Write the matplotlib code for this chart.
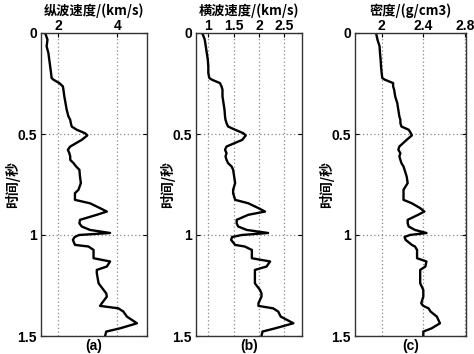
import matplotlib
matplotlib.use("Agg")
import matplotlib.pyplot as plt

plt.rcParams['font.family'] = ['Liberation Sans', 'Noto Sans CJK SC', 'DejaVu Sans']
plt.rcParams['font.weight'] = 'bold'

time_s = [0.000, 0.033, 0.066, 0.099, 0.132, 0.165, 0.198, 0.223, 0.231, 0.248,
          0.264, 0.281, 0.314, 0.347, 0.380, 0.413, 0.430, 0.446, 0.463, 0.479,
          0.496, 0.507, 0.529, 0.562, 0.578, 0.595, 0.611, 0.628, 0.644, 0.661,
          0.677, 0.710, 0.743, 0.776, 0.793, 0.826, 0.843, 0.867, 0.884, 0.900,
          0.925, 0.942, 0.958, 0.975, 0.990, 1.000, 1.010, 1.024, 1.049, 1.057,
          1.074, 1.115, 1.131, 1.156, 1.173, 1.189, 1.239, 1.272, 1.289, 1.305,
          1.338, 1.351, 1.363, 1.379, 1.404, 1.437, 1.462, 1.478, 1.500]

vp = [1.55, 1.63, 1.60, 1.66, 1.69, 1.72, 1.75, 1.77, 1.83, 2.03,
      2.15, 2.17, 2.20, 2.24, 2.28, 2.34, 2.40, 2.42, 2.45, 2.62,
      2.90, 2.98, 2.79, 2.40, 2.32, 2.37, 2.40, 2.40, 2.51, 2.60,
      2.71, 2.73, 2.76, 2.68, 2.56, 2.56, 3.07, 3.41, 3.64, 3.30,
      2.73, 2.71, 2.79, 3.07, 3.75, 2.70, 2.55, 2.49, 2.56, 3.02,
      3.19, 3.19, 3.75, 3.64, 3.30, 3.30, 3.36, 3.53, 3.62, 3.64,
      3.47, 3.41, 4.03, 4.20, 4.32, 4.66, 4.09, 3.62, 3.58]

vs = [0.88, 0.93, 0.95, 0.97, 0.99, 1.00, 1.00, 1.02, 1.07, 1.23,
      1.26, 1.28, 1.28, 1.30, 1.32, 1.33, 1.34, 1.36, 1.39, 1.53,
      1.69, 1.74, 1.67, 1.36, 1.33, 1.36, 1.34, 1.36, 1.39, 1.46,
      1.49, 1.51, 1.53, 1.49, 1.49, 1.53, 1.79, 1.99, 2.12, 1.79,
      1.56, 1.56, 1.59, 1.76, 2.18, 1.66, 1.47, 1.45, 1.53, 1.72,
      1.86, 1.86, 2.22, 2.15, 1.92, 1.92, 1.92, 2.02, 2.05, 2.05,
      1.99, 1.99, 2.28, 2.38, 2.43, 2.68, 2.32, 2.07, 2.05]

rho = [1.946, 1.96, 1.98, 1.984, 1.99, 1.994, 2.00, 2.006, 2.03, 2.11,
       2.11, 2.12, 2.13, 2.15, 2.16, 2.17, 2.18, 2.18, 2.19, 2.26,
       2.28, 2.29, 2.24, 2.17, 2.16, 2.18, 2.17, 2.18, 2.19, 2.21,
       2.22, 2.24, 2.25, 2.21, 2.21, 2.21, 2.29, 2.37, 2.41, 2.35,
       2.25, 2.25, 2.26, 2.32, 2.43, 2.27, 2.22, 2.23, 2.29, 2.32,
       2.34, 2.34, 2.43, 2.42, 2.37, 2.37, 2.37, 2.40, 2.40, 2.40,
       2.38, 2.40, 2.45, 2.47, 2.53, 2.56, 2.48, 2.40, 2.40]

titles = ['纵波速度/(km/s)', '横波速度/(km/s)', '密度/(g/cm3)']
panel_labels = ['(a)', '(b)', '(c)']
xticks_list = [[2, 4], [1, 1.5, 2, 2.5], [2, 2.4, 2.8]]
xticklabels_list = [['2', '4'], ['1', '1.5', '2', '2.5'], ['2', '2.4', '2.8']]
xlims = [(1.41, 5.0), (0.757, 2.85), (1.744, 2.81)]
yticks = [0, 0.5, 1, 1.5]
yticklabels = ['0', '0.5', '1', '1.5']
ylabel = '时间/秒'

W, H = 474, 354
fig = plt.figure(figsize=(W / 100, H / 100), dpi=100)
boxes = [(41, 147), (196, 302), (355, 466)]
top_px, bot_px = 33, 336
cjk = ['Noto Sans CJK SC', 'Liberation Sans']

for i, (series, (l, r)) in enumerate(zip([vp, vs, rho], boxes)):
    ax = fig.add_axes([l / W, 1 - bot_px / H, (r - l) / W, (bot_px - top_px) / H])
    ax.plot(series, time_s, color='black', lw=1.7)
    ax.set_ylim(1.5, 0)
    ax.set_xlim(*xlims[i])
    ax.set_xticks(xticks_list[i])
    ax.set_xticklabels(xticklabels_list[i])
    ax.set_yticks(yticks)
    ax.set_yticklabels(yticklabels)
    ax.xaxis.tick_top()
    ax.tick_params(axis='both', direction='in', length=3, width=0.8,
                   labelsize=10, colors='black')
    ax.tick_params(axis='x', pad=0)
    ax.tick_params(axis='y', pad=3, right=True)
    ax.grid(True, linestyle=(0, (1, 2)), color='#888888', lw=0.9)
    for s in ax.spines.values():
        s.set_color('#333333')
        s.set_linewidth(1.0)
    # title centred above axes, at ~11 px from top of figure
    ax.text(0.5, 1 + (top_px - 11) / (bot_px - top_px), titles[i],
            transform=ax.transAxes, ha='center', va='center',
            fontsize=9.5, fontweight='bold', family=cjk)
    # y label, ~28 px left of the axes
    ax.text(-28 / (r - l), 0.5, ylabel, transform=ax.transAxes,
            rotation=90, ha='center', va='center',
            fontsize=10, fontweight='bold', family=cjk)
    ax.text(0.5, -0.01, panel_labels[i], transform=ax.transAxes,
            ha='center', va='top', fontsize=10, fontweight='bold')

fig.savefig('out.png', dpi=100)
